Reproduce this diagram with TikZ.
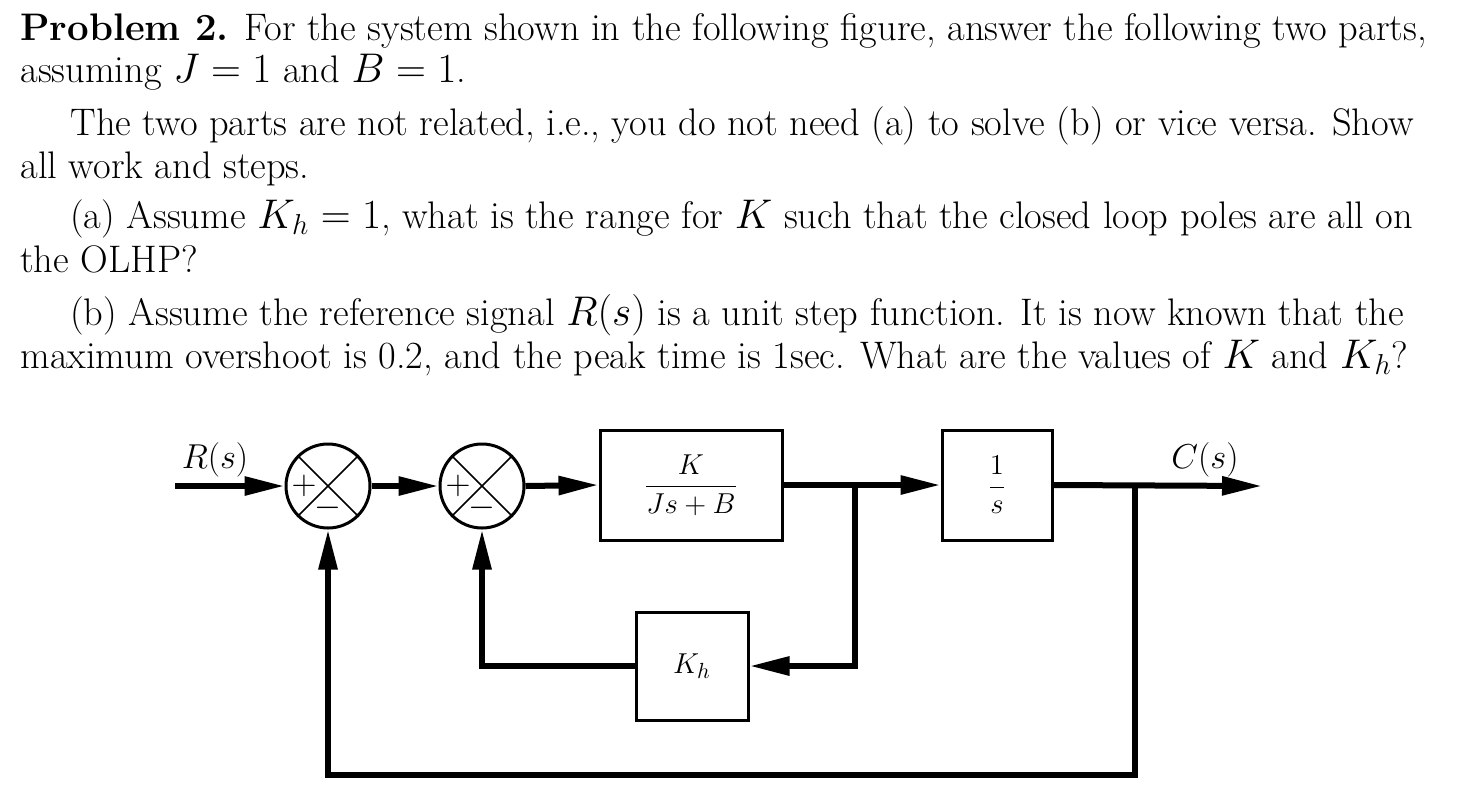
\documentclass[tikz,border=0pt]{standalone}
\usetikzlibrary{arrows.meta}
\begin{document}
\begin{tikzpicture}[x=0.5pt,y=-0.5pt,
 txt/.style={anchor=base west,inner sep=0pt,font=\fontsize{19.2}{22}\selectfont},
 sig/.style={line width=3pt,-{Triangle[length=20pt,width=9pt]}},
 blk/.style={draw,line width=1.5pt,rectangle,inner sep=0pt,font=\fontsize{15}{18}\selectfont},
 sumj/.style={draw,line width=1.5pt,circle,minimum size=42pt,inner sep=0pt},
 sgn/.style={inner sep=0pt,font=\fontsize{18}{18}\selectfont},
 lab/.style={font=\fontsize{16}{18}\selectfont}]
\useasboundingbox (0,0) rectangle (1460,810);
\node[txt] (l1) at (20,40) {\textbf{Problem 2.} For the system shown in the following figure, answer the following two parts,};
\node[txt] (l2) at (20,82) {assuming $J=1$ and $B=1$.};
\node[txt] (l3) at (70,135) {The two parts are not related, i.e., you do not need (a) to solve (b) or vice versa. Show};
\node[txt] (l4) at (20,178) {all work and steps.};
\node[txt] (l5) at (70,228) {(a) Assume $K_h=1$, what is the range for $K$ such that the closed loop poles are all on};
\node[txt] (l6) at (20,272) {the OLHP?};
\node[txt] (l7) at (70,325) {(b) Assume the reference signal $R(s)$ is a unit step function. It is now known that the};
\node[txt] (l8) at (20,368) {maximum overshoot is 0.2, and the peak time is 1sec. What are the values of $K$ and $K_h$?};
% diagram
\node[sumj] (s1) at (328,486) {};
\node[sumj] (s2) at (482,486) {};
\foreach \s in {s1,s2}{
 \draw[line width=0.8pt] (\s.north west) -- (\s.south east) (\s.north east) -- (\s.south west);
 \node[sgn] at ([xshift=-12pt]\s.center) {$+$};
 \node[sgn] at ([yshift=-11pt]\s.center) {$-$};
}
\node[blk,minimum width=91pt,minimum height=55pt] (g) at (691,485) {$\displaystyle\frac{K}{Js+B}$};
\node[blk,minimum width=55pt,minimum height=55pt] (i) at (997,485) {$\displaystyle\frac{1}{s}$};
\node[blk,minimum width=56pt,minimum height=54pt] (kh) at (692,666) {$K_h$};
\node[lab] (r) at (215,460) {$R(s)$};
\node[lab] (c) at (1205,460) {$C(s)$};
\coordinate (in) at (175,486);
\coordinate (out) at (1262,486);
\coordinate (b1) at (855,486);
\coordinate (b2) at (1135,486);
\draw[sig] (in) -- (s1.west);
\draw[sig] (s1.east) -- (s2.west);
\draw[sig] (s2.east) -- (g.west);
\draw[sig] (g.east) -- (i.west);
\draw[sig] (i.east) -- (out);
\draw[sig] (b1) |- (kh.east);
\draw[sig] (kh.west) -| (s2.south);
\draw[sig] (b2) -- (1135,775) -| (s1.south);
\end{tikzpicture}
\end{document}
